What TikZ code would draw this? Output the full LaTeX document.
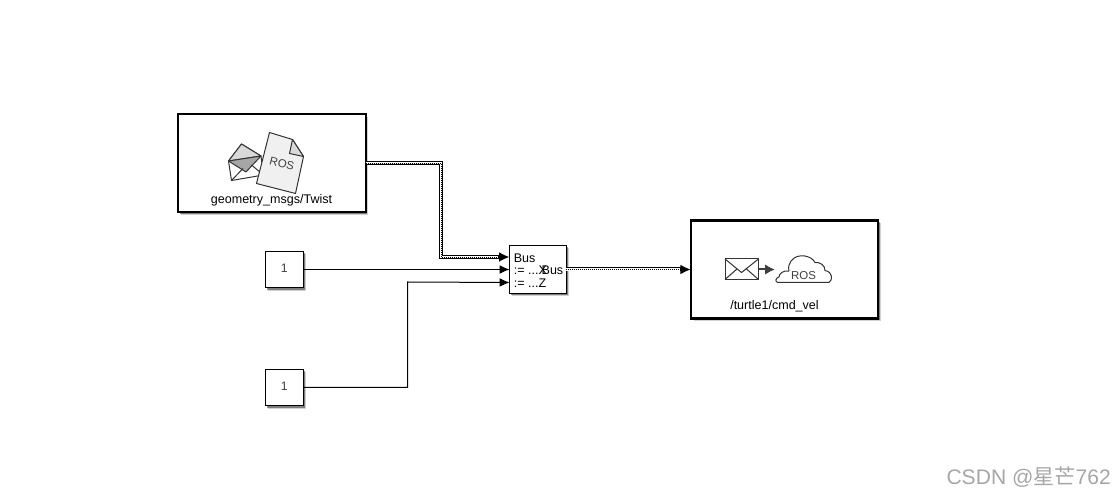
\documentclass[tikz,border=0pt]{standalone}
\usepackage{fontspec}
\setmainfont{Liberation Sans}
\newfontfamily\cjkfont{Noto Sans CJK SC}
\usetikzlibrary{calc, positioning, arrows.meta, shadows}
\begin{document}
\begin{tikzpicture}[
    x=0.75pt, y=-0.75pt,
    node distance=20pt,
    blockshadow/.style={
        drop shadow={shadow xshift=2pt, shadow yshift=-2.2pt, fill=black, opacity=0.18},
        drop shadow={shadow xshift=1.2pt, shadow yshift=-1.4pt, fill=black, opacity=0.4}},
    rosblock/.style={draw=black, line width=1.6pt, fill=white, outer sep=0pt, minimum width=140.5pt, minimum height=73.5pt, blockshadow},
    constblock/.style={draw=black, line width=0.6pt, fill=white, outer sep=0pt, minimum width=28pt, minimum height=27.5pt, font=\fontsize{9.2}{11}\selectfont, text=black!75, text depth=2pt, inner sep=0pt, blockshadow},
    busblock/.style={draw=black, line width=0.6pt, fill=white, outer sep=0pt, minimum width=42.5pt, minimum height=36pt, blockshadow},
    label/.style={inner sep=0pt, font=\fontsize{9.4}{11}\selectfont},
    rostext/.style={inner sep=0pt, text=black!75, font=\fontsize{8.6}{10}\selectfont},
    icon/.style={draw=black!80, line width=0.75pt, line join=round},
    wire/.style={draw=black, line width=0.75pt, -{Latex[length=7.5pt, width=6.5pt]}},
    buswire/.style={
        draw=black, line width=3pt, -{Latex[length=8pt, width=7.5pt]},
        postaction={draw=white, line width=1.6pt, shorten >=8.5pt, -},
        postaction={draw=black, line width=0.5pt, dash pattern=on 0.75pt off 0.75pt, shorten >=8.5pt, -}}
]
\useasboundingbox (0,0) rectangle (1114,498);

% blocks
\node[busblock] (bus) at (538,269.5) {};
\node[rosblock, above left=25pt and 108pt of bus] (source) {};
\node[constblock, left=155pt of bus] (one) {1};
\node[constblock, below=61pt of one] (two) {1};
\node[rosblock, right=93.5pt of bus] (sink) {};

% ports of the bus block
\coordinate (portbus) at ($(bus.west)+(0,-12.5)$);
\coordinate (portx) at (bus.west);
\coordinate (portz) at ($(bus.west)+(0,13)$);
\coordinate (bendbus) at (441,257);
\coordinate (bendz) at (407.5,282);

% labels
\node[label] (sourcetext) at (271.5,200) {geometry\_msgs/Twist};
\node[label] (sinktext) at (774.5,306) {/turtle1/cmd\_vel};
\node[label, anchor=west] (busin) at (513.5,258) {Bus};
\node[label, anchor=west] (xin) at (513.5,270) {:= ...X};
\node[label, anchor=west] (zin) at (513.5,283) {:= ...Z};
\node[label, anchor=east] (busout) at (563.5,270.5) {Bus};

% subscriber icon
\draw[icon, fill=white] (228.5,161) -- (241.5,144) -- (261,156) -- (263.5,175) -- (231.5,180.5) -- cycle;
\draw[icon, fill=black!15] (228.5,161) -- (241.5,144) -- (261,156) -- cycle;
\draw[icon, fill=black!35] (228.5,161) -- (261,156) -- (246,172) -- cycle;
\draw[icon] (231.5,180.5) -- (243,168.5) (263.5,175) -- (251.5,165);
\draw[icon, fill=black!6] (269.5,132.5) -- (292.5,139.5) -- (303.5,156.5) -- (295.5,193.5) -- (256.5,183.5) -- cycle;
\draw[icon, fill=black!15] (292.5,139.5) -- (289.5,153.5) -- (303.5,156.5) -- cycle;
\node[rostext, rotate=-14] (subros) at (282,164) {ROS};

% publisher icon
\draw[icon, fill=white] (725,259) rectangle (758.5,279.5);
\draw[icon] (725,259) -- (741.5,272.5) -- (758.5,259) (725,279.5) -- (737,269) (758.5,279.5) -- (746.5,269);
\draw[draw=black!75, line width=1.5pt, -{Latex[length=7.5pt, width=8pt]}] (758.5,269.5) -- (775,269.5);
\draw[icon] (778,282.5) -- (829,282.5) .. controls (833,280) and (833,272) .. (825,270.5) .. controls (825,265) and (820,262) .. (815,262.5) .. controls (812,256) and (798,252) .. (791,261) .. controls (789,264) and (788,267) .. (789,271) .. controls (783,270) and (779,274) .. (779,277) .. controls (775,278) and (775,282) .. (778,282.5) -- cycle;
\node[rostext] (pubros) at (803.5,276) {ROS};

% connectors
\draw[buswire] (source.east) -| (bendbus) -- (portbus);
\draw[wire] (one.east) -- (portx);
\draw[wire] (two.east) -| (bendz) -- (portz);
\draw[buswire] (bus.east) -- (sink.west);

% watermark
\node[inner sep=0pt, anchor=east, text=black!35, font=\fontsize{15.8}{18}\selectfont] (mark) at (1111,477) {CSDN @{\cjkfont 星芒}762};
\end{tikzpicture}
\end{document}
